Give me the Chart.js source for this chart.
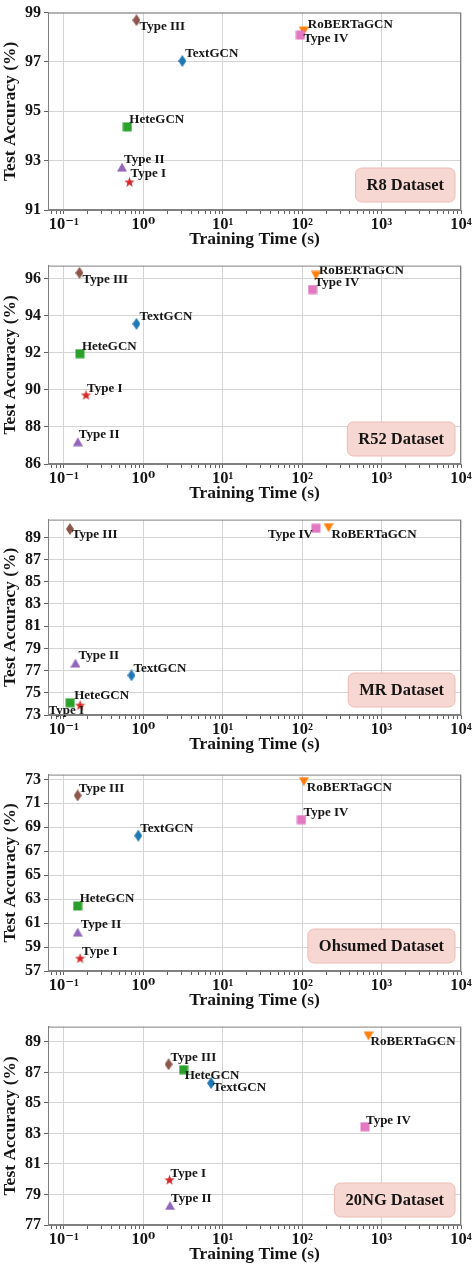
<!DOCTYPE html>
<html>
<head>
<meta charset="utf-8">
<script src="https://cdn.jsdelivr.net/npm/chart.js@4.4.0/dist/chart.umd.min.js"></script>
<style>
  body { margin: 0; background: #fff; }
  #wrap { position: relative; width: 474px; height: 1267px; }
  .panel { position: absolute; left: 0; }
</style>
</head>
<body>
<div id="wrap"></div>
<script>
// methods, same order in every dataset array
const methods = ["TextGCN", "HeteGCN", "Type I", "Type II", "Type III", "Type IV", "RoBERTaGCN"];

// training time (s) / test accuracy (%) per dataset
const r8Time = [3.1, 0.63, 0.67, 0.54, 0.82, 95, 105];
const r8Acc = [97.04, 94.37, 92.14, 92.74, 98.69, 98.09, 98.25];
const r52Time = [0.82, 0.159, 0.19, 0.15, 0.157, 135, 149];
const r52Acc = [93.56, 91.95, 89.73, 87.2, 96.31, 95.41, 96.17];
const mrTime = [0.71, 0.12, 0.16, 0.14, 0.119, 149, 215];
const mrAcc = [76.57, 74.1, 73.9, 77.68, 89.75, 89.81, 89.87];
const ohsTime = [0.865, 0.149, 0.16, 0.149, 0.149, 98, 105];
const ohsAcc = [68.3, 62.43, 58.08, 60.25, 71.66, 69.64, 72.81];
const ngTime = [7.13, 3.22, 2.14, 2.17, 2.08, 617, 685];
const ngAcc = [86.3, 87.17, 79.97, 78.28, 87.53, 83.44, 89.38];

// tick labels
const xTicks = [0.1, 1, 10, 100, 1000, 10000];
const xTickLabels = ["10\u207B\u00B9", "10\u2070", "10\u00B9", "10\u00B2", "10\u00B3", "10\u2074"];
const r8YTicks = [91, 93, 95, 97, 99];
const r52YTicks = [86, 88, 90, 92, 94, 96];
const mrYTicks = [73, 75, 77, 79, 81, 83, 85, 87, 89];
const ohsYTicks = [57, 59, 61, 63, 65, 67, 69, 71, 73];
const ngYTicks = [77, 79, 81, 83, 85, 87, 89];

// styles
const colors = ["#1f77b4", "#2ca02c", "#d62728", "#9467bd", "#8c564b", "#e377c2", "#ff7f0e"];
const shapes = ["thin", "square", "star", "triUp", "thin", "square", "triDown"];
const drawOrder = [3, 4, 1, 2, 3, 1, 5];
const SERIF = '"Liberation Serif", "DejaVu Serif", serif';

function makeMarker(shape, color) {
  let w = 10, h = 10;
  if (shape == "thin") { w = 8; h = 12; }
  if (shape == "star") { w = 11; h = 11; }
  const c = document.createElement("canvas");
  c.width = w; c.height = h;
  const g = c.getContext("2d");
  g.fillStyle = color;
  g.beginPath();
  switch (shape) {
    case "square":
      g.rect(0.5, 0.5, w - 1, h - 1);
      break;
    case "thin":
      g.moveTo(w / 2, 0); g.lineTo(w, h / 2); g.lineTo(w / 2, h); g.lineTo(0, h / 2);
      break;
    case "triUp":
      g.moveTo(w / 2, 0.5); g.lineTo(w, h - 0.5); g.lineTo(0, h - 0.5);
      break;
    case "triDown":
      g.moveTo(0, 0.5); g.lineTo(w, 0.5); g.lineTo(w / 2, h - 0.5);
      break;
    case "star":
      for (let k = 0; k < 10; k++) {
        const r = k % 2 == 0 ? w / 2 : w / 5;
        const a = -Math.PI / 2 + k * Math.PI / 5;
        const px = w / 2 + r * Math.cos(a), py = h / 2 + 0.6 + r * Math.sin(a);
        if (k == 0) g.moveTo(px, py); else g.lineTo(px, py);
      }
      break;
  }
  g.closePath();
  g.fill();
  return c;
}

const markers = shapes.map((s, i) => makeMarker(s, colors[i]));

// label placement per method: [dx, dy, align]
const panels = [
  { name: "R8 Dataset", time: r8Time, acc: r8Acc, yTicks: r8YTicks, yMin: 91, yMax: 99, top: 0, plotH: 204,
    lab: [[3, -7, "left"], [2, -7, "left"], [1, -8, "left"], [2, -7, "left"], [3, 6, "left"], [3, 4, "left"], [4, -6, "left"]] },
  { name: "R52 Dataset", time: r52Time, acc: r52Acc, yTicks: r52YTicks, yMin: 86, yMax: 96.7, top: 253, plotH: 205,
    lab: [[3, -7, "left"], [2, -7, "left"], [1, -6, "left"], [1, -7, "left"], [3, 7, "left"], [2, -7, "left"], [3, -5, "left"]] },
  { name: "MR Dataset", time: mrTime, acc: mrAcc, yTicks: mrYTicks, yMin: 73, yMax: 90.6, top: 507, plotH: 202,
    lab: [[2, -7, "left"], [4, -7, "left"], [4, 6, "right"], [3, -7, "left"], [2, 6, "left"], [-3, 6, "right"], [3, 7, "left"]] },
  { name: "Ohsumed Dataset", time: ohsTime, acc: ohsAcc, yTicks: ohsYTicks, yMin: 57, yMax: 73.4, top: 762, plotH: 203,
    lab: [[2, -7, "left"], [2, -7, "left"], [2, -6, "left"], [3, -7, "left"], [1, -7, "left"], [2, -7, "left"], [3, 6, "left"]] },
  { name: "20NG Dataset", time: ngTime, acc: ngAcc, yTicks: ngYTicks, yMin: 77, yMax: 90, top: 1014, plotH: 205,
    lab: [[2, 5, "left"], [1, 6, "left"], [1, -6, "left"], [1, -7, "left"], [2, -7, "left"], [1, -6, "left"], [2, 6, "left"]] }
];

function isDecade(v) {
  const l = Math.log10(v);
  return Math.abs(l - Math.round(l)) < 1e-6;
}

const framePlugin = {
  id: "frame",
  afterDatasetsDraw(chart) {
    const ctx = chart.ctx;
    const a = chart.chartArea;
    const p = chart.options.plugins.frame;
    // point labels
    ctx.save();
    ctx.font = "bold 13px " + SERIF;
    ctx.fillStyle = "#151515";
    ctx.textBaseline = "middle";
    chart.data.datasets.forEach((ds, i) => {
      const el = chart.getDatasetMeta(i).data[0];
      const o = p.lab[i];
      ctx.textAlign = o[2];
      ctx.fillText(ds.label, el.x + o[0], el.y + o[1]);
    });
    // dataset box
    ctx.font = "bold 16.5px " + SERIF;
    const tw = ctx.measureText(p.name).width;
    const bw = tw + 22, bh = 34;
    const bx = a.right - 6 - bw, by = a.bottom - 8 - bh;
    ctx.beginPath();
    ctx.roundRect(bx, by, bw, bh, 6);
    ctx.fillStyle = "#f7d7d1";
    ctx.fill();
    ctx.strokeStyle = "#ebbdb5";
    ctx.lineWidth = 1;
    ctx.stroke();
    ctx.fillStyle = "#151515";
    ctx.textAlign = "center";
    ctx.fillText(p.name, bx + bw / 2, by + bh / 2 + 1);
    // frame
    ctx.strokeStyle = "#808080";
    ctx.strokeRect(a.left + 0.5, a.top + 0.5, a.right - a.left - 1, a.bottom - a.top - 1);
    ctx.restore();
  }
};

const wrap = document.getElementById("wrap");

panels.forEach((p) => {
  const h = 6 + p.plotH + 40;
  const div = document.createElement("div");
  div.className = "panel";
  div.style.top = p.top + "px";
  const canvas = document.createElement("canvas");
  canvas.width = 474;
  canvas.height = h;
  canvas.style.width = "474px";
  canvas.style.height = h + "px";
  div.appendChild(canvas);
  wrap.appendChild(div);

  const datasets = methods.map((m, i) => ({
    label: m,
    data: [{ x: p.time[i], y: p.acc[i] }],
    pointStyle: markers[i],
    pointRadius: 5,
    backgroundColor: colors[i],
    borderColor: colors[i],
    order: drawOrder[i]
  }));

  new Chart(canvas, {
    type: "scatter",
    data: { datasets: datasets },
    options: {
      responsive: false,
      animation: false,
      events: [],
      layout: { padding: { top: 6, right: 13, left: 0, bottom: 0 } },
      plugins: {
        legend: { display: false },
        tooltip: { enabled: false },
        frame: { name: p.name, lab: p.lab }
      },
      scales: {
        x: {
          type: "logarithmic",
          min: Math.pow(10, -1.2),
          max: 10000,
          afterBuildTicks: (scale) => {
            const list = [];
            xTicks.forEach((d) => {
              list.push(d);
              for (let k = 2; k <= 9; k++) list.push(d * k / 10);
            });
            list.push(0.07, 0.08, 0.09);
            scale.ticks = list
              .filter((v) => v >= scale.min - 1e-9 && v <= scale.max + 1e-9)
              .sort((a, b) => a - b)
              .map((v) => ({ value: v, major: isDecade(v) }));
          },
          afterFit: (scale) => { scale.height = 40; },
          ticks: {
            autoSkip: false,
            maxRotation: 0,
            padding: 1,
            color: "#151515",
            font: { family: SERIF, weight: "bold", size: 16.5 },
            callback: function (value) {
              const i = xTicks.findIndex((d) => Math.abs(d - value) < 1e-9 * d);
              return i >= 0 ? xTickLabels[i] : "";
            }
          },
          grid: {
            color: (ctx) => (ctx.tick && isDecade(ctx.tick.value) ? "#d4d4d4" : "rgba(0,0,0,0)"),
            tickColor: "#606060",
            tickLength: 4
          },
          border: { color: "#808080" },
          title: {
            display: true,
            text: "Training Time (s)",
            color: "#151515",
            padding: { top: 0, bottom: 0 },
            font: { family: SERIF, weight: "bold", size: 17.5 }
          }
        },
        y: {
          min: p.yMin,
          max: p.yMax,
          afterBuildTicks: (scale) => {
            scale.ticks = p.yTicks.map((v) => ({ value: v }));
          },
          afterFit: (scale) => { scale.width = 48; },
          ticks: {
            autoSkip: false,
            padding: 3,
            color: "#151515",
            font: { family: SERIF, weight: "bold", size: 16 }
          },
          grid: { color: "#d4d4d4", tickColor: "#606060", tickLength: 4 },
          border: { color: "#808080" },
          title: {
            display: true,
            text: "Test Accuracy (%)",
            color: "#151515",
            padding: { top: 0, bottom: 0 },
            font: { family: SERIF, weight: "bold", size: 17.5 }
          }
        }
      }
    },
    plugins: [framePlugin]
  });
});
</script>
</body>
</html>
